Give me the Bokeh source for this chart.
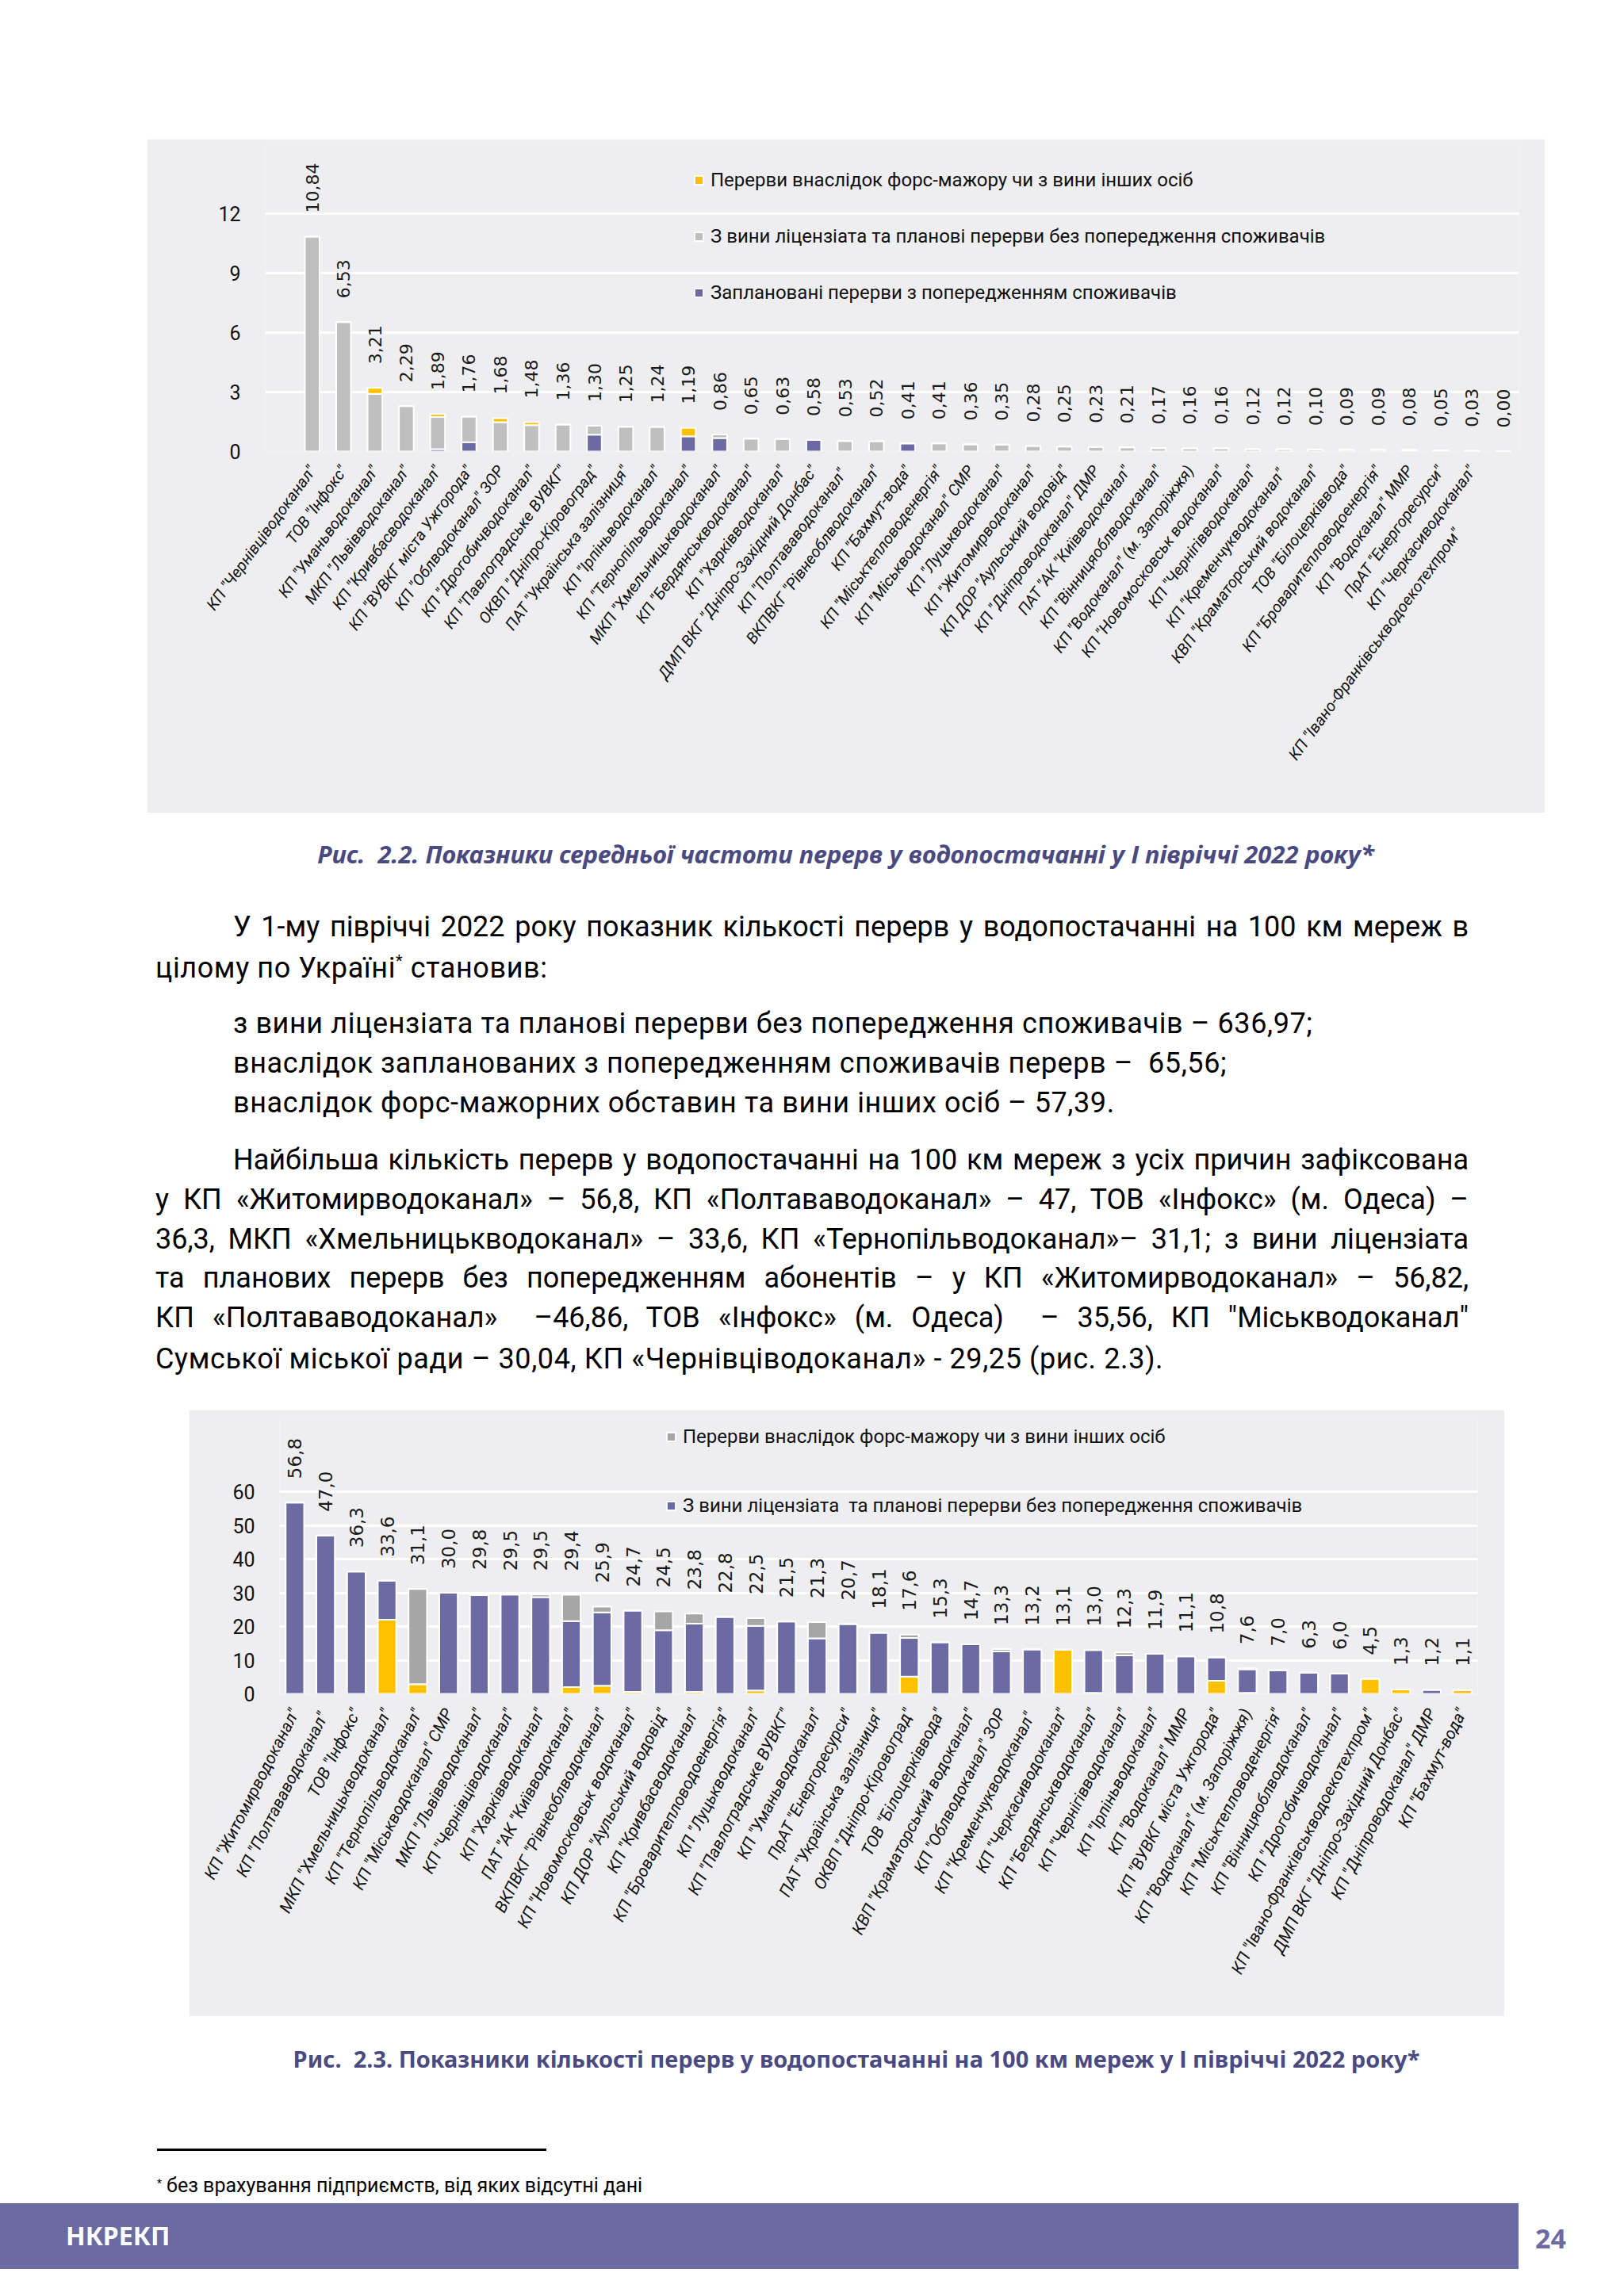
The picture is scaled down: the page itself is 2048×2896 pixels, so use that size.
import numpy as np
from bokeh.plotting import figure
from bokeh.models import Range1d, FixedTicker, Legend, LegendItem, Div, Spacer, ColumnDataSource
from bokeh.layouts import column, row
from bokeh.embed import file_html
from bokeh.resources import INLINE
from bokeh.core.properties import value

# ---------------- data: chart 2.2 ----------------
names1 = ['КП "Чернівціводоканал"', 'ТОВ "Інфокс"', 'КП "Уманьводоканал"', 'МКП "Львівводоканал"',
          'КП "Кривбасводоканал"', 'КП "ВУВКГ міста Ужгорода"', 'КП "Облводоканал" ЗОР',
          'КП "Дрогобичводоканал"', 'КП "Павлоградське ВУВКГ"', 'ОКВП "Дніпро-Кіровоград"',
          'ПАТ "Українська залізниця"', 'КП "Ірпіньводоканал"', 'КП "Тернопільводоканал"',
          'МКП "Хмельницькводоканал"', 'КП "Бердянськводоканал"', 'КП "Харківводоканал"',
          'ДМП ВКГ "Дніпро-Західний Донбас"', 'КП  "Полтававодоканал"', 'ВКПВКГ "Рівнеоблводоканал"',
          'КП "Бахмут-вода"', 'КП "Міськтепловоденергія"', 'КП "Міськводоканал" СМР',
          'КП "Луцькводоканал"', 'КП "Житомирводоканал"', 'КП ДОР "Аульський водовід"',
          'КП "Дніпроводоканал" ДМР', 'ПАТ "АК "Київводоканал"', 'КП "Вінницяоблводоканал"',
          'КП "Водоканал" (м. Запоріжжя)', 'КП "Новомосковськ водоканал"', 'КП "Чернігівводоканал"',
          'КП  "Кременчукводоканал"', 'КВП "Краматорський водоканал"', 'ТОВ "Білоцерківвода"',
          'КП "Броваритепловодоенергія"', 'КП "Водоканал" ММР', 'ПрАТ "Енергоресурси"',
          'КП "Черкасиводоканал"', 'КП "Івано-Франківськводоекотехпром"']
planned1 = [0, 0, 0, 0, 0.12, 0.47, 0, 0, 0, 0.85, 0, 0, 0.77, 0.68, 0, 0, 0.58, 0, 0, 0.41,
            0, 0, 0, 0, 0, 0, 0, 0, 0, 0, 0, 0, 0, 0, 0, 0, 0, 0, 0]
licensee1 = [10.84, 6.53, 2.91, 2.29, 1.62, 1.29, 1.48, 1.33, 1.36, 0.45, 1.25, 1.24, 0, 0.18,
             0.65, 0.63, 0, 0.53, 0.52, 0, 0.41, 0.36, 0.35, 0.28, 0.25, 0.23, 0.21, 0.17, 0.16,
             0.16, 0.12, 0.12, 0.10, 0.09, 0.09, 0.08, 0.05, 0.03, 0.00]
force1 = [0, 0, 0.30, 0, 0.15, 0, 0.20, 0.15, 0, 0, 0, 0, 0.42, 0, 0, 0, 0, 0, 0, 0,
          0, 0, 0, 0, 0, 0, 0, 0, 0, 0, 0, 0, 0, 0, 0, 0, 0, 0, 0]
totals1 = [10.84, 6.53, 3.21, 2.29, 1.89, 1.76, 1.68, 1.48, 1.36, 1.30, 1.25, 1.24, 1.19, 0.86,
           0.65, 0.63, 0.58, 0.53, 0.52, 0.41, 0.41, 0.36, 0.35, 0.28, 0.25, 0.23, 0.21, 0.17,
           0.16, 0.16, 0.12, 0.12, 0.10, 0.09, 0.09, 0.08, 0.05, 0.03, 0.00]
legend1 = ["Перерви внаслідок форс-мажору чи з вини інших осіб",
           "З вини ліцензіата та планові перерви без попередження споживачів",
           "Заплановані перерви з попередженням споживачів"]
yticks1 = [0, 3, 6, 9, 12]

# ---------------- data: chart 2.3 ----------------
names2 = ['КП "Житомирводоканал"', 'КП  "Полтававодоканал"', 'ТОВ "Інфокс"', 'МКП "Хмельницькводоканал"',
          'КП "Тернопільводоканал"', 'КП "Міськводоканал" СМР', 'МКП "Львівводоканал"',
          'КП "Чернівціводоканал"', 'КП "Харківводоканал"', 'ПАТ "АК "Київводоканал"',
          'ВКПВКГ "Рівнеоблводоканал"', 'КП "Новомосковськ водоканал"', 'КП ДОР "Аульський водовід"',
          'КП "Кривбасводоканал"', 'КП "Броваритепловодоенергія"', 'КП "Луцькводоканал"',
          'КП "Павлоградське ВУВКГ"', 'КП "Уманьводоканал"', 'ПрАТ "Енергоресурси"',
          'ПАТ "Українська залізниця"', 'ОКВП "Дніпро-Кіровоград"', 'ТОВ "Білоцерківвода"',
          'КВП "Краматорський водоканал"', 'КП "Облводоканал" ЗОР', 'КП  "Кременчукводоканал"',
          'КП "Черкасиводоканал"', 'КП "Бердянськводоканал"', 'КП "Чернігівводоканал"',
          'КП "Ірпіньводоканал"', 'КП "Водоканал" ММР', 'КП "ВУВКГ міста Ужгорода"',
          'КП "Водоканал" (м. Запоріжжя)', 'КП "Міськтепловоденергія"', 'КП "Вінницяоблводоканал"',
          'КП "Дрогобичводоканал"', 'КП "Івано-Франківськводоекотехпром"',
          'ДМП ВКГ "Дніпро-Західний Донбас"', 'КП "Дніпроводоканал" ДМР', 'КП "Бахмут-вода"']
yellow2 = [0, 0, 0, 22.0, 2.9, 0, 0, 0, 0, 2.0, 2.4, 0.6, 0, 0.6, 0, 1.0, 0, 0, 0, 0,
           5.1, 0, 0, 0, 0, 13.1, 0.3, 0, 0, 0, 3.9, 0.3, 0, 0, 0, 4.5, 1.3, 0, 1.1]
purple2 = [56.8, 47.0, 36.3, 11.6, 0, 30.0, 29.3, 29.5, 28.7, 19.6, 21.8, 24.1, 18.9, 20.2,
           22.8, 19.2, 21.5, 16.5, 20.7, 18.1, 11.5, 15.3, 14.7, 12.6, 13.2, 0, 12.7, 11.4,
           11.9, 11.1, 6.9, 7.0, 7.0, 6.3, 6.0, 0, 0, 1.2, 0]
gray2 = [0, 0, 0, 0, 28.2, 0, 0.5, 0, 0.8, 7.8, 1.7, 0, 5.6, 3.0, 0, 2.3, 0, 4.8, 0, 0,
         1.0, 0, 0, 0.7, 0, 0, 0, 0.9, 0, 0, 0, 0.3, 0, 0, 0, 0, 0, 0, 0]
totals2 = [56.8, 47.0, 36.3, 33.6, 31.1, 30.0, 29.8, 29.5, 29.5, 29.4, 25.9, 24.7, 24.5, 23.8,
           22.8, 22.5, 21.5, 21.3, 20.7, 18.1, 17.6, 15.3, 14.7, 13.3, 13.2, 13.1, 13.0, 12.3,
           11.9, 11.1, 10.8, 7.6, 7.0, 6.3, 6.0, 4.5, 1.3, 1.2, 1.1]
legend2 = ["Перерви внаслідок форс-мажору чи з вини інших осіб",
           "З вини ліцензіата  та планові перерви без попередження споживачів"]
yticks2 = [0, 10, 20, 30, 40, 50, 60]

# ---------------- style ----------------
BG = "#EEEEF1"
PURPLE = "#6C6AA3"
GRAY1 = "#BFBFBF"
GRAY2 = "#A6A6A6"
YELLOW = "#FFC000"
CAP = "#4B4A80"
FONT = "Roboto"
CSSFONT = "Roboto, 'Noto Sans', sans-serif"
CAPFONT = "'Noto Sans', Roboto, sans-serif"
LFONT = "DejaVu Sans"


def fmt(v, nd):
    return f"{v:.{nd}f}".replace(".", ",")


def style_axes(p, ticks, names, angle_deg, xsize, overrides=None):
    n = len(names)
    p.xgrid.visible = False
    p.ygrid.ticker = FixedTicker(ticks=ticks)
    p.ygrid.grid_line_color = "white"
    p.ygrid.grid_line_width = 3
    p.yaxis.ticker = FixedTicker(ticks=ticks)
    p.yaxis.axis_line_color = None
    p.yaxis.major_tick_line_color = None
    p.yaxis.minor_tick_line_color = None
    p.yaxis.major_label_text_font = FONT
    p.yaxis.major_label_text_font_size = "25px"
    p.yaxis.major_label_text_color = "#111111"
    p.yaxis.major_label_standoff = 25
    p.xaxis.ticker = FixedTicker(ticks=list(range(n)))
    p.xaxis.major_label_overrides = overrides or {i: nm for i, nm in enumerate(names)}
    p.xaxis.major_label_orientation = np.deg2rad(angle_deg)
    p.xaxis.axis_line_color = None
    p.xaxis.major_tick_line_color = None
    p.xaxis.minor_tick_line_color = None
    p.xaxis.major_label_text_font = FONT
    p.xaxis.major_label_text_font_style = "italic"
    p.xaxis.major_label_text_font_size = xsize
    p.xaxis.major_label_text_color = "#111111"
    p.xaxis.major_label_standoff = 14


# ---------------- chart 2.2 ----------------
idx1 = list(range(len(names1)))
src1 = ColumnDataSource(dict(x=idx1, planned=planned1, licensee=licensee1, force=force1,
                             total=totals1, label=[fmt(v, 2) for v in totals1]))
p1 = figure(width=1763, height=850, title=None, output_backend="svg", toolbar_location=None,
            x_range=Range1d(-1.5, len(names1) - 0.5), y_range=Range1d(0, 15.56),
            min_border_left=149, min_border_right=33, min_border_top=5, min_border_bottom=456,
            background_fill_color=BG, border_fill_color=BG, outline_line_color=None)
rs1 = p1.vbar_stack(["planned", "licensee", "force"], x="x", width=0.47, source=src1,
                    fill_color=[PURPLE, GRAY1, YELLOW], line_color="white", line_width=2)
p1.text(x="x", y="total", text="label", source=src1, angle=np.pi / 2, text_align="left",
        text_baseline="middle", y_offset=-30, text_font=value(LFONT), text_font_size="22px",
        text_color="#1a1a1a")
ov1 = {i: nm for i, nm in enumerate(names1)}
# the last category label sits lower in the original (Excel shifted it along its direction)
ov1[len(names1) - 1] = names1[-1] + "\u00a0" * 20
style_axes(p1, yticks1, names1, 54, "20px", ov1)
leg1 = Legend(items=[LegendItem(label=legend1[0], renderers=[rs1[2]]),
                     LegendItem(label=legend1[1], renderers=[rs1[1]]),
                     LegendItem(label=legend1[2], renderers=[rs1[0]])],
              location=(540, 185), orientation="vertical", spacing=41, padding=0, margin=0,
              glyph_width=14, glyph_height=14, label_height=30, label_standoff=8,
              label_text_font=FONT, label_text_font_size="24px", label_text_color="#111111",
              background_fill_alpha=0, border_line_color=None)
p1.add_layout(leg1)

# ---------------- chart 2.3 ----------------
idx2 = list(range(len(names2)))
src2 = ColumnDataSource(dict(x=idx2, yel=yellow2, pur=purple2, gry=gray2,
                             total=totals2, label=[fmt(v, 1) for v in totals2]))
p2 = figure(width=1659, height=765, title=None, output_backend="svg", toolbar_location=None,
            x_range=Range1d(-0.5, len(names2) - 0.5), y_range=Range1d(0, 81.9),
            min_border_left=114, min_border_right=34, min_border_top=10, min_border_bottom=407,
            background_fill_color=BG, border_fill_color=BG, outline_line_color=None)
rs2 = p2.vbar_stack(["yel", "pur", "gry"], x="x", width=0.6, source=src2,
                    fill_color=[YELLOW, PURPLE, GRAY2], line_color="white", line_width=2)
p2.text(x="x", y="total", text="label", source=src2, angle=np.pi / 2, text_align="left",
        text_baseline="middle", y_offset=-30, text_font=value(LFONT), text_font_size="23px",
        text_color="#1a1a1a")
style_axes(p2, yticks2, names2, 63, "21px")
leg2 = Legend(items=[LegendItem(label=legend2[0], renderers=[rs2[2]]),
                     LegendItem(label=legend2[1], renderers=[rs2[1]])],
              location=(487, 222), orientation="vertical", spacing=57, padding=0, margin=0,
              glyph_width=14, glyph_height=14, label_height=30, label_standoff=8,
              label_text_font=FONT, label_text_font_size="24px", label_text_color="#111111",
              background_fill_alpha=0, border_line_color=None)
p2.add_layout(leg2)


# ---------------- text blocks ----------------
BODY = 36


def ln(oy, cy, x0, html, size=BODY, x1=None, justify=False, color="#000", weight="normal",
       italic=False, center=False, h=52, font=CSSFONT, spacing=None):
    top = cy - oy - h / 2
    st = (f"position:absolute;left:{x0}px;top:{top}px;height:{h}px;line-height:{h}px;"
          f"font-family:{font};font-size:{size}px;color:{color};font-weight:{weight};"
          f"white-space:nowrap;margin:0;padding:0;")
    if italic:
        st += "font-style:italic;"
    if x1 is not None:
        st += f"width:{x1 - x0}px;"
    if justify:
        st += "text-align:justify;text-align-last:justify;"
    if center:
        st += "text-align:center;"
    if spacing is not None:
        st += f"letter-spacing:{spacing}px;"
    return f'<div style="{st}">{html}</div>'


SUP = '<sup style="font-size:55%;vertical-align:top;line-height:1;position:relative;top:8px;">*</sup>'
LS = 0.6

O1 = 1025
mid = []
mid.append(ln(O1, 1077, 185, "Рис.&nbsp; 2.2. Показники середньої частоти перерв у водопостачанні у І півріччі 2022 року*",
              size=31, x1=1948, color=CAP, weight="bold", italic=True, center=True, font=CAPFONT))
mid.append(ln(O1, 1169, 294, "У 1-му півріччі 2022 року показник кількості перерв у водопостачанні на 100 км мереж в",
              x1=1852, justify=True))
mid.append(ln(O1, 1221, 196, f"цілому по Україні{SUP} становив:", spacing=LS))
mid.append(ln(O1, 1291, 294, "з вини ліцензіата та планові перерви без попередження споживачів – 636,97;", spacing=LS))
mid.append(ln(O1, 1341, 294, "внаслідок запланованих з попередженням споживачів перерв –&nbsp; 65,56;", spacing=LS))
mid.append(ln(O1, 1391, 294, "внаслідок форс-мажорних обставин та вини інших осіб – 57,39.", spacing=LS))
mid.append(ln(O1, 1463, 294, "Найбільша кількість перерв у водопостачанні на 100 км мереж з усіх причин зафіксована",
              x1=1852, justify=True))
mid.append(ln(O1, 1513, 196, "у КП «Житомирводоканал» – 56,8, КП «Полтававодоканал» – 47, ТОВ «Інфокс» (м. Одеса) –",
              x1=1852, justify=True))
mid.append(ln(O1, 1563, 196, "36,3, МКП «Хмельницькводоканал» – 33,6, КП «Тернопільводоканал»– 31,1; з вини ліцензіата",
              x1=1852, justify=True))
mid.append(ln(O1, 1612, 196, "та планових перерв без попередженням абонентів – у КП «Житомирводоканал» – 56,82,",
              x1=1852, justify=True))
mid.append(ln(O1, 1662, 196, "КП «Полтававодоканал» &nbsp;–46,86, ТОВ «Інфокс» (м. Одеса) &nbsp;– 35,56, КП \"Міськводоканал\"",
              x1=1852, justify=True))
mid.append(ln(O1, 1714, 196, "Сумської міської ради – 30,04, КП «Чернівціводоканал» - 29,25 (рис. 2.3).", spacing=LS))

mid_div = Div(text=f'<div style="position:relative;width:2040px;height:753px;">{"".join(mid)}</div>',
              width=2040, height=753, margin=0)

O2 = 2543
bot = []
bot.append(ln(O2, 2597, 238, "Рис.&nbsp; 2.3. Показники кількості перерв у водопостачанні на 100 км мереж у І півріччі 2022 року*",
              size=29, x1=1922, color=CAP, weight="bold", center=True, font=CAPFONT))
bot.append(f'<div style="position:absolute;left:198px;top:{2710 - O2}px;width:491px;height:3px;background:#000;"></div>')
bot.append(ln(O2, 2757, 198, f"{SUP} без врахування підприємств, від яких відсутні дані", size=25, h=34))
bot.append(f'<div style="position:absolute;left:0px;top:{2779 - O2}px;width:1915px;height:83px;background:{PURPLE};"></div>')
bot.append(ln(O2, 2820, 83, "НКРЕКП", size=32, color="#FFFFFF", weight="bold", h=44, font=CAPFONT))
bot.append(ln(O2, 2823, 1936, "24", size=34, color=PURPLE, weight="bold", h=44, font=CAPFONT))
bot_div = Div(text=f'<div style="position:relative;width:2040px;height:345px;">{"".join(bot)}</div>',
              width=2040, height=345, margin=0)

layout = column(
    Spacer(width=2040, height=175),
    row(Spacer(width=185, height=850), p1),
    mid_div,
    row(Spacer(width=238, height=765), p2),
    bot_div,
)

with open("out.html", "w") as f:
    f.write(file_html(layout, INLINE))
